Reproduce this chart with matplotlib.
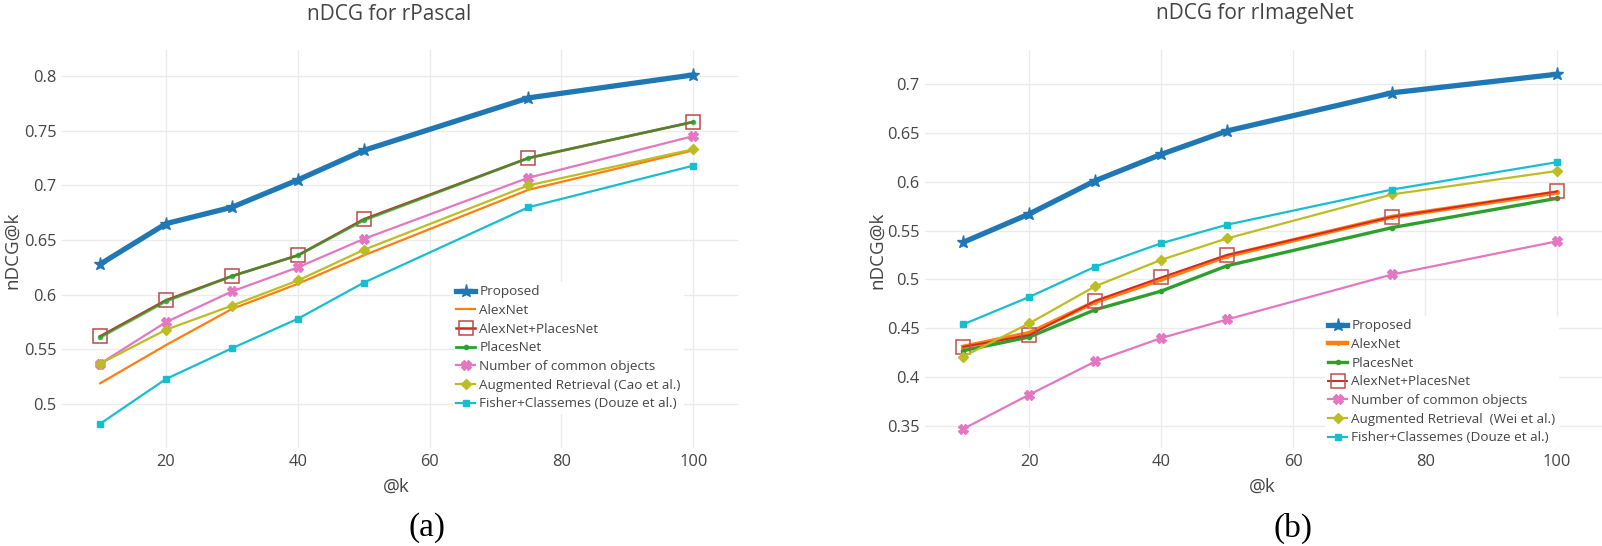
import numpy as np
import matplotlib
matplotlib.use("Agg")
import matplotlib.pyplot as plt
from matplotlib.ticker import FuncFormatter

plt.rcParams['font.family'] = ['Open Sans', 'DejaVu Sans']

k = [10, 20, 30, 40, 50, 75, 100]

# rPascal
proposed_a = [0.628, 0.665, 0.680, 0.705, 0.732, 0.780, 0.801]
alexnet_a = [0.519, 0.554, 0.587, 0.610, 0.636, 0.696, 0.732]
alex_places_a = [0.562, 0.595, 0.617, 0.636, 0.669, 0.725, 0.758]
places_a = [0.561, 0.594, 0.617, 0.636, 0.668, 0.725, 0.758]
common_a = [0.537, 0.575, 0.603, 0.625, 0.651, 0.707, 0.745]
augmented_a = [0.537, 0.568, 0.590, 0.613, 0.641, 0.700, 0.733]
fisher_a = [0.482, 0.523, 0.551, 0.578, 0.611, 0.680, 0.718]

# rImageNet
proposed_b = [0.538, 0.567, 0.601, 0.628, 0.652, 0.691, 0.710]
alexnet_b = [0.431, 0.445, 0.477, 0.500, 0.524, 0.564, 0.589]
places_b = [0.427, 0.441, 0.469, 0.488, 0.514, 0.553, 0.583]
alex_places_b = [0.431, 0.443, 0.478, 0.502, 0.525, 0.564, 0.590]
common_b = [0.347, 0.382, 0.416, 0.440, 0.459, 0.505, 0.539]
augmented_b = [0.421, 0.455, 0.493, 0.520, 0.542, 0.587, 0.611]
fisher_b = [0.454, 0.482, 0.513, 0.537, 0.556, 0.592, 0.620]

blue, orange, green, red = '#1f77b4', '#ff7f0e', '#2ca02c', '#d62728'
pink, olive, cyan = '#e377c2', '#bcbd22', '#17becf'
txt = '#444444'

W, H = 1602, 546
fig = plt.figure(figsize=(W / 100, H / 100), dpi=100)


def px(x, y):
    return x / W, 1 - y / H


def style(ax, yticks, ylim):
    ax.set_xlim(4.2, 106.8)
    ax.set_ylim(*ylim)
    ax.set_xticks([20, 40, 60, 80, 100])
    ax.set_yticks(yticks)
    ax.yaxis.set_major_formatter(FuncFormatter(lambda v, p: '%g' % round(v, 2)))
    ax.tick_params(length=0, labelsize=11.8, colors=txt, pad=4)
    for s in ax.spines.values():
        s.set_visible(False)
    ax.grid(True, color='#ebebeb', lw=1)
    ax.set_axisbelow(True)


def legend(ax, x, y):
    leg = ax.legend(loc='upper left', bbox_to_anchor=px(x, y), bbox_transform=fig.transFigure,
                    frameon=True, facecolor='white', edgecolor='none', framealpha=1,
                    fontsize=9.7, handlelength=1.4, handletextpad=0.3, labelspacing=0.42,
                    borderpad=0.25, borderaxespad=0)
    for t in leg.get_texts():
        t.set_color(txt)
    for h in leg.legend_handles:
        h.set_alpha(1)
    return leg


# (a) rPascal
ax1 = fig.add_axes([62 / W, 98 / H, 676 / W, 398 / H])
ax1.plot(k, proposed_a, color=blue, lw=3.8, marker='*', ms=9.5, label='Proposed')
ax1.plot(k, alexnet_a, color=orange, lw=1.6, label='AlexNet')
ax1.plot(k, alex_places_a, color=red, lw=1.8, marker='s', ms=10, mfc='none',
         mec='#b94a48', mew=1.1, label='AlexNet+PlacesNet')
ax1.plot(k, places_a, color=green, lw=2.0, alpha=0.72, marker='o', ms=3, label='PlacesNet')
ax1.plot(k, common_a, color=pink, lw=1.6, marker='X', ms=6.5, label='Number of common objects')
ax1.plot(k, augmented_a, color=olive, lw=1.6, marker='D', ms=5, label='Augmented Retrieval (Cao et al.)')
ax1.plot(k, fisher_a, color=cyan, lw=1.6, marker='s', ms=4.5, label='Fisher+Classemes (Douze et al.)')
style(ax1, np.arange(0.5, 0.801, 0.05), (0.4598, 0.8238))
legend(ax1, 453, 282)

# (b) rImageNet
ax2 = fig.add_axes([925 / W, 98 / H, 677 / W, 398 / H])
ax2.plot(k, proposed_b, color=blue, lw=3.8, marker='*', ms=9.5, label='Proposed')
ax2.plot(k, alexnet_b, color=orange, lw=3.2, marker='o', ms=2.5, label='AlexNet')
ax2.plot(k, places_b, color=green, lw=2.4, marker='o', ms=3, label='PlacesNet')
ax2.plot(k, alex_places_b, color=red, lw=1.4, marker='s', ms=10, mfc='none',
         mec='#c0504d', mew=1.1, label='AlexNet+PlacesNet')
ax2.plot(k, common_b, color=pink, lw=1.6, marker='X', ms=6.5, label='Number of common objects')
ax2.plot(k, augmented_b, color=olive, lw=1.6, marker='D', ms=5, label='Augmented Retrieval  (Wei et al.)')
ax2.plot(k, fisher_b, color=cyan, lw=1.6, marker='s', ms=4.5, label='Fisher+Classemes (Douze et al.)')
style(ax2, np.arange(0.35, 0.701, 0.05), (0.3274, 0.7348))
legend(ax2, 1325, 316)

# titles and axis titles
fig.text(*px(389, 14), 'nDCG for rPascal', ha='center', va='center', fontsize=15, color=txt)
fig.text(*px(1255, 14), 'nDCG for rImageNet', ha='center', va='center', fontsize=15, color=txt)
fig.text(*px(396, 487), '@k', ha='center', va='center', fontsize=13.5, color=txt)
fig.text(*px(1262, 487), '@k', ha='center', va='center', fontsize=13.5, color=txt)
fig.text(*px(12, 250), 'nDCG@k', ha='center', va='center', rotation=90, fontsize=13.5, color=txt)
fig.text(*px(877, 250), 'nDCG@k', ha='center', va='center', rotation=90, fontsize=13.5, color=txt)
fig.text(*px(427, 528), '(a)', ha='center', va='center', fontsize=24, family='Liberation Serif')
fig.text(*px(1293, 528), '(b)', ha='center', va='center', fontsize=24, family='Liberation Serif')

fig.savefig('out.png', dpi=100)
